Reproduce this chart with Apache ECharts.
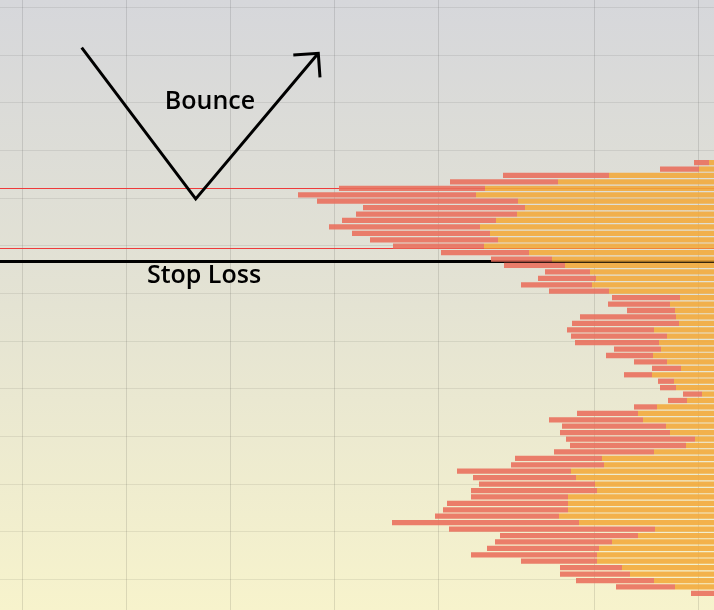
<!DOCTYPE html>
<html>
<head>
<meta charset="utf-8">
<script src="https://cdn.jsdelivr.net/npm/echarts@6/dist/echarts.min.js"></script>
<style>
html,body{margin:0;padding:0;}
#chart{width:714px;height:610px;background:linear-gradient(to bottom,#d6d7db 0%,#e4e3d3 50%,#f7f3cc 100%);}
</style>
</head>
<body>
<div id="chart"></div>
<script>
// ---- data (top row first) ----
const priceLevels = Array.from({length: 68}, (_, i) => (108.74 - i * 0.135).toFixed(2));
// orange (right-hand) segment of each row
const buyVolume = [5, 15, 105, 156, 229, 238, 196, 189, 197, 218, 234, 224, 216, 230, 185, 162, 149, 124, 118, 122,
  105, 34, 44, 39, 38, 35, 60, 47, 55, 53, 61, 47, 33, 62, 40, 38, 12, 27, 57, 76,
  71, 48, 44, 19, 28, 60, 112, 110, 143, 138, 119, 117, 146, 146, 146, 155, 135, 59, 76, 102,
  115, 117, 117, 92, 84, 60, 39, 0];
// red (left-hand) segment of each row
const sellVolume = [15, 39, 106, 108, 146, 178, 201, 162, 161, 154, 151, 138, 128, 91, 88, 61, 61, 45, 58, 71,
  60, 68, 62, 48, 96, 107, 87, 96, 84, 47, 47, 33, 29, 28, 16, 16, 19, 19, 23, 61,
  94, 104, 110, 129, 116, 100, 87, 93, 114, 103, 116, 126, 97, 121, 125, 124, 187, 206, 138, 117,
  112, 126, 76, 62, 70, 78, 59, 23];
// background price chart (sessions / price)
const sessionTicks = [0, 2, 4, 6, 8, 11, 13];
const priceTicks = [100, 101, 102, 103, 104, 105, 106, 107, 108, 109, 110, 111, 112];
const valueAreaHigh = 108.1985;
const valueAreaLow = 106.9398;
const stopLoss = 106.6671;
const bouncePath = [[1.142, 111.153], [3.335, 107.979], [5.692, 111.035]];
const arrowHead = [[5.212, 111.0], [5.692, 111.035], [5.725, 110.532]];
const notes = [
  {name: 'Bounce', value: [3.610, 110.013]},
  {name: 'Stop Loss', value: [3.494, 106.363]}
];

const chart = echarts.init(document.getElementById('chart'), null, {renderer: 'canvas'});
chart.setOption({
  animation: false,
  backgroundColor: 'transparent',
  grid: [
    {left: 0, right: 0, top: 159.4, bottom: 13.4},
    {left: 0, right: 0, top: 0, bottom: 0}
  ],
  xAxis: [
    {gridIndex: 0, type: 'value', inverse: true, min: 0, max: 714, show: false},
    {gridIndex: 1, type: 'value', min: -0.4288, max: 13.302,
      axisLine: {show: false},
      axisTick: {show: false, customValues: sessionTicks},
      axisLabel: {show: false, customValues: sessionTicks},
      splitLine: {show: true, lineStyle: {color: 'rgba(0,0,0,0.11)', width: 1}}}
  ],
  yAxis: [
    {gridIndex: 0, type: 'category', inverse: true, data: priceLevels, show: false},
    {gridIndex: 1, type: 'value', min: 99.356, max: 112.153,
      axisLine: {show: false},
      axisTick: {show: false, customValues: priceTicks},
      axisLabel: {show: false, customValues: priceTicks},
      splitLine: {show: true, lineStyle: {color: 'rgba(0,0,0,0.075)', width: 1}}}
  ],
  series: [
    {
      type: 'line', xAxisIndex: 1, yAxisIndex: 1, data: bouncePath, symbol: 'none', silent: true, z: 3,
      lineStyle: {color: '#000', width: 3, join: 'miter', cap: 'butt'},
      markLine: {
        silent: true, symbol: ['none', 'none'], label: {show: false}, z: 1,
        data: [
          {yAxis: valueAreaHigh, lineStyle: {color: '#ee3b3b', width: 1, type: 'solid'}},
          {yAxis: valueAreaLow, lineStyle: {color: '#ee3b3b', width: 1, type: 'solid'}},
          {yAxis: stopLoss, lineStyle: {color: '#000', width: 3, type: 'solid'}}
        ]
      }
    },
    {
      type: 'line', xAxisIndex: 1, yAxisIndex: 1, data: arrowHead, symbol: 'none', silent: true, z: 3,
      lineStyle: {color: '#000', width: 3, join: 'miter', cap: 'butt'}
    },
    {
      type: 'scatter', xAxisIndex: 1, yAxisIndex: 1, data: notes, symbolSize: 0, silent: true, z: 3,
      itemStyle: {opacity: 1},
      label: {show: true, formatter: '{b}', position: 'inside', color: '#000', opacity: 1,
        fontFamily: 'Open Sans', fontSize: 25, fontWeight: 600}
    },
    {
      name: 'Buy', type: 'bar', stack: 'vol', xAxisIndex: 0, yAxisIndex: 0, data: buyVolume,
      barCategoryGap: '18%', z: 10, silent: true,
      itemStyle: {color: '#f3a939', opacity: 0.88}
    },
    {
      name: 'Sell', type: 'bar', stack: 'vol', xAxisIndex: 0, yAxisIndex: 0, data: sellVolume,
      barCategoryGap: '18%', z: 10, silent: true,
      itemStyle: {color: '#e96d5b', opacity: 0.88}
    }
  ]
});
</script>
</body>
</html>
